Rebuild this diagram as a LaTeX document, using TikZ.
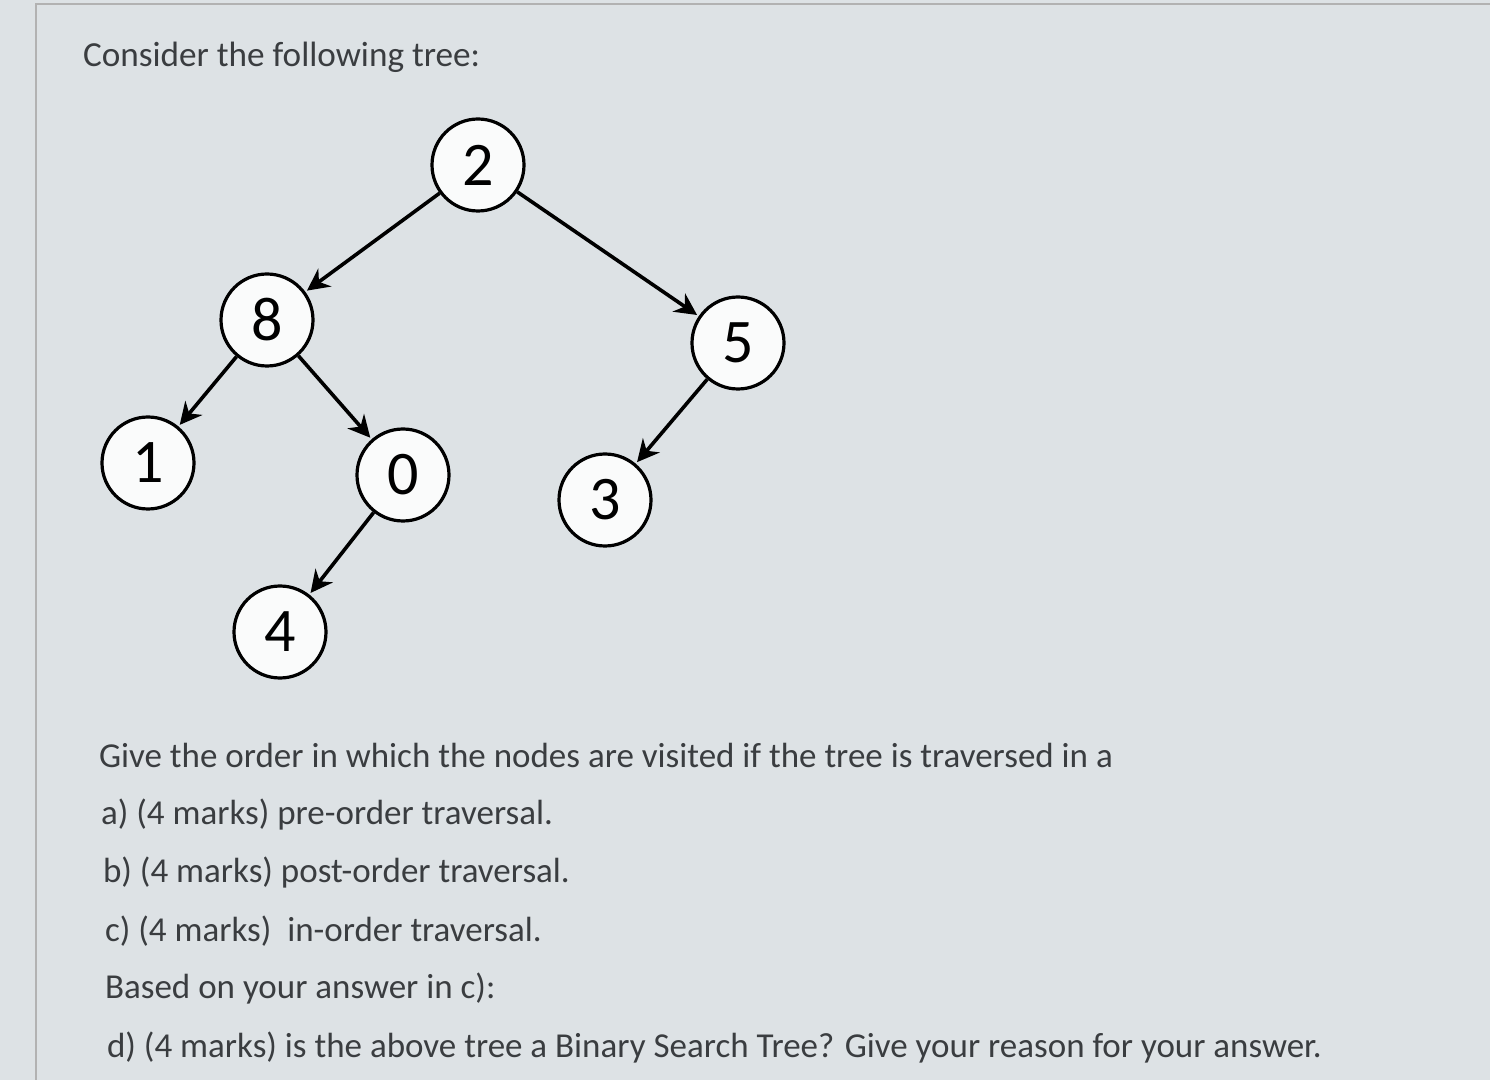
\documentclass[tikz,border=0pt]{standalone}
\usepackage{fontspec}
\setmainfont{Carlito}
\usetikzlibrary{arrows.meta}
\definecolor{bg}{HTML}{DDE2E5}
\definecolor{txt}{HTML}{3A3D40}
\begin{document}
\begin{tikzpicture}[x=0.5pt,y=-0.5pt,
  tn/.style={circle,draw=black,line width=1.6pt,fill=white!85!bg,minimum size=46pt,inner sep=0pt,font=\fontsize{31}{32}\selectfont},
  ed/.style={line width=1.8pt,-{Stealth[length=11pt,width=11pt]},shorten >=1pt},
  lbl/.style={anchor=west,text=txt,font=\fontsize{17.5}{20}\selectfont}]
\fill[bg] (0,0) rectangle (1490,1080);
\useasboundingbox (0,0) rectangle (1490,1080);
\draw[gray!60,line width=0.8pt] (36,1080) -- (36,4) -- (1490,4);
\node[anchor=west,text=txt,font=\fontsize{17.6}{20}\selectfont] (title) at (76,57) {Consider the following tree:};
\node[tn] (n2) at (478,165) {2};
\node[tn] (n8) at (267,320) {8};
\node[tn] (n5) at (738,343) {5};
\node[tn] (n1) at (148,463) {1};
\node[tn] (n0) at (403,475) {0};
\node[tn] (n3) at (605,500) {3};
\node[tn] (n4) at (280,632) {4};
\draw[ed] (n2) -- (n8);
\draw[ed] (n2) -- (n5);
\draw[ed] (n8) -- (n1);
\draw[ed] (n8) -- (n0);
\draw[ed] (n0) -- (n4);
\draw[ed] (n5) -- (n3);
\node[lbl] (q0) at (92,755) {Give the order in which the nodes are visited if the tree is traversed in a};
\node[lbl] (qa) at (94,815) {a) (4 marks) pre-order traversal.};
\node[lbl] (qb) at (96,873) {b) (4 marks) post-order traversal.};
\node[lbl] (qc) at (98,931) {c) (4 marks)\ \ in-order traversal.};
\node[lbl] (qd0) at (98,989) {Based on your answer in c):};
\node[lbl] (qd) at (100,1048) {d) (4 marks) is the above tree a Binary Search Tree? Give your reason for your answer.};
\end{tikzpicture}
\end{document}
